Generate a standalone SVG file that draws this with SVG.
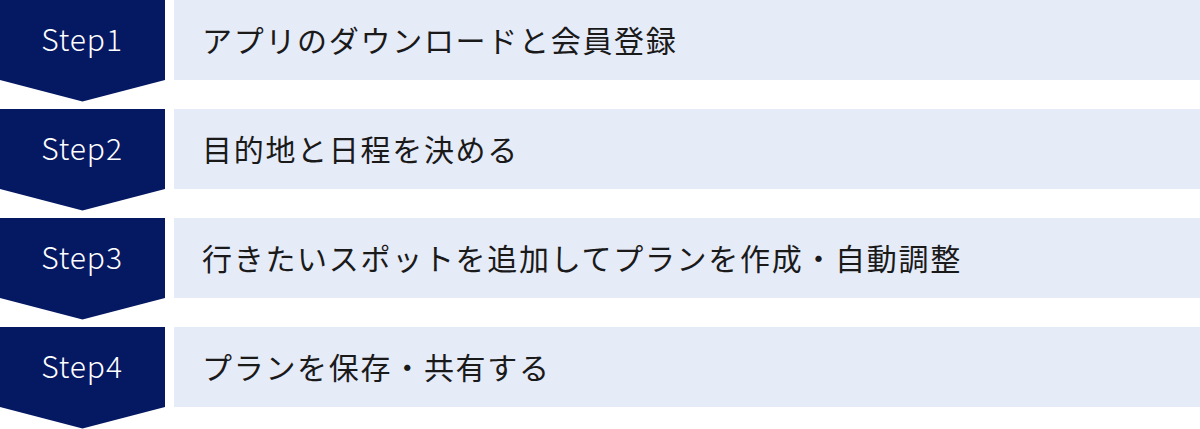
<svg xmlns="http://www.w3.org/2000/svg" width="1200" height="429" viewBox="0 0 1200 429">
<style>
.badge{fill:#051862}
.box{fill:#e6ebf8}
.step{font-family:"Noto Sans CJK JP","Noto Sans",sans-serif;font-size:30px;font-weight:300;fill:#ffffff;letter-spacing:0.9px;text-anchor:middle}
.label{font-family:"Noto Sans CJK JP","Noto Sans",sans-serif;font-size:30px;fill:#1a1a1a;letter-spacing:1.7px}
</style>
<rect width="1200" height="429" fill="#ffffff"/>
<g id="step1">
<rect class="box" x="174" y="0" width="1026" height="80"/>
<path class="badge" d="M0 0H165V80L82.5 101.5L0 80Z"/>
<text class="step" x="82" y="51">Step1</text>
<text class="label" x="202" y="52">アプリのダウンロードと会員登録</text>
</g>
<g id="step2">
<rect class="box" x="174" y="109" width="1026" height="80"/>
<path class="badge" d="M0 109H165V189L82.5 210.5L0 189Z"/>
<text class="step" x="82" y="160">Step2</text>
<text class="label" x="202" y="161">目的地と日程を決める</text>
</g>
<g id="step3">
<rect class="box" x="174" y="218" width="1026" height="80"/>
<path class="badge" d="M0 218H165V298L82.5 319.5L0 298Z"/>
<text class="step" x="82" y="269">Step3</text>
<text class="label" x="202" y="270">行きたいスポットを追加してプランを作成・自動調整</text>
</g>
<g id="step4">
<rect class="box" x="174" y="327" width="1026" height="80"/>
<path class="badge" d="M0 327H165V407L82.5 428.5L0 407Z"/>
<text class="step" x="82" y="378">Step4</text>
<text class="label" x="202" y="379">プランを保存・共有する</text>
</g>
<g id="connectors"></g>
</svg>
